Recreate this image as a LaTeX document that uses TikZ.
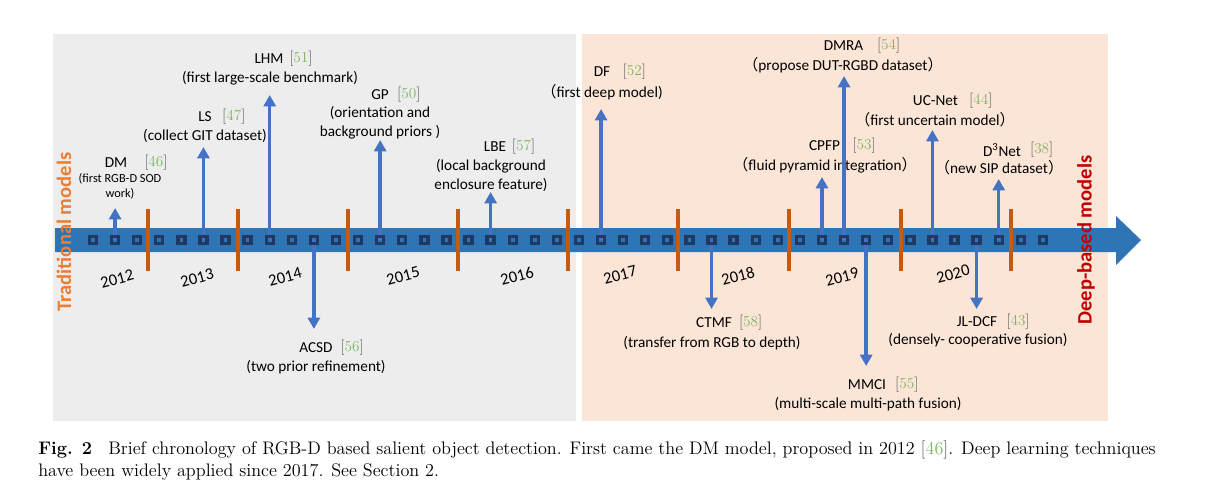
\documentclass[tikz,border=0pt]{standalone}
\usepackage{fontspec}
\usepackage{xcolor}
\usepackage{tikz}
\usetikzlibrary{arrows.meta, positioning}
\newfontfamily\calibri{Carlito}
\newfontfamily\cjk{Noto Sans CJK SC}
\definecolor{tradgray}{HTML}{EDEDED}
\definecolor{deeppeach}{HTML}{FBE5D6}
\definecolor{bandblue}{HTML}{2E75B6}
\definecolor{boxnavy}{HTML}{203864}
\definecolor{stemblue}{HTML}{4472C4}
\definecolor{tickorange}{HTML}{C55A11}
\definecolor{tradorange}{HTML}{ED7D31}
\definecolor{deepred}{HTML}{C00000}
\definecolor{citegreen}{HTML}{7DB564}
\definecolor{citegray}{HTML}{555555}

\newcommand{\evfont}{\calibri\fontsize{11.5}{14.5}\selectfont}
\newcommand{\refnum}[1]{{\color{citegray}[}{\color{citegreen}#1}{\color{citegray}]}}
\newcommand{\wlp}{{\cjk （}}
\newcommand{\wrp}{{\cjk ）}}

\tikzset{
  evname/.style={font=\evfont, inner sep=0pt},
  evdesc/.style={font=\evfont, inner sep=0pt, align=center},
  evcite/.style={font=\rmfamily\fontsize{11.5}{14}\selectfont, inner sep=0pt},
  stem/.style={draw=stemblue, line width=2.6pt, -{Triangle[width=9pt,length=8.5pt]}},
  yearbox/.style={draw=boxnavy, line width=2.5pt, minimum size=5.3pt, inner sep=0pt},
  yeartick/.style={draw=tickorange, line width=2.4pt},
  yearlbl/.style={font=\calibri\fontsize{12.5}{14}\selectfont, rotate=15, inner sep=0pt},
  sidelbl/.style={font=\calibri\bfseries\fontsize{15.5}{18}\selectfont, rotate=90, inner sep=0pt}
}

\begin{document}
\begin{tikzpicture}[x=0.0265cm, y=-0.0265cm]
    \useasboundingbox (0,0) rectangle (1209,491);

    % Era backgrounds
    \fill[tradgray] (53,34) rectangle (576,421);
    \fill[deeppeach] (582,34) rectangle (1108,421);

    % Time band
    \fill[bandblue] (55,228) -- (1116,228) -- (1116,216) -- (1141,240) -- (1116,265) -- (1116,252) -- (55,252) -- cycle;
    \foreach \i in {0,...,43}
        \coordinate (c\i) at ({93+22.09*\i},240);

    % Events above the band
    \node[evname, label={[evcite, xshift=12.5pt]right:\refnum{46}}] (dm) at (116,163) {DM};
    \node[evdesc, font=\calibri\fontsize{9.3}{11.3}\selectfont] (dm-d) at (120,186.5) {(first RGB-D SOD\\work)};
    \coordinate (dm-tip) at (117,208);

    \node[evname, label={[evcite, xshift=7.5pt]right:\refnum{47}}] (ls) at (205,117) {LS};
    \node[evdesc] (ls-d) at (205,136) {(collect GIT dataset)};
    \coordinate (ls-tip) at (203,147);

    \node[evname, label={[evcite, xshift=4pt]right:\refnum{51}}] (lhm) at (269,59) {LHM};
    \node[evdesc] (lhm-d) at (270,78) {(first large-scale benchmark)};
    \coordinate (lhm-tip) at (270,95);

    \node[evname, label={[evcite, xshift=6pt]right:\refnum{50}}] (gp) at (380,95) {GP};
    \node[evdesc] (gp-d) at (380,123) {(orientation and\\background priors )};
    \coordinate (gp-tip) at (380,140);

    \node[evname, label={[evcite, xshift=4pt]right:\refnum{57}}] (lbe) at (495,147) {LBE};
    \node[evdesc] (lbe-d) at (491,175.5) {(local background\\enclosure feature)};
    \coordinate (lbe-tip) at (491,192);

    \node[evname, label={[evcite, xshift=9pt]right:\refnum{52}}] (df) at (602,72) {DF};
    \node[evdesc] (df-d) at (602,92) {\wlp first deep model)};
    \coordinate (df-tip) at (601,109);

    \node[evname, label={[evcite, xshift=9pt]right:\refnum{53}}] (cpfp) at (824.5,146) {CPFP};
    \node[evdesc] (cpfp-d) at (825,165) {\wlp fluid pyramid integration\wrp};
    \coordinate (cpfp-tip) at (822,177);

    \node[evname, label={[evcite, xshift=10pt]right:\refnum{54}}] (dmra) at (843.5,46) {DMRA};
    \node[evdesc] (dmra-d) at (843,65) {\wlp propose DUT-RGBD dataset\wrp};
    \coordinate (dmra-tip) at (844,76);

    \node[evname, label={[evcite, xshift=8pt]right:\refnum{44}}] (ucnet) at (935.5,101) {UC-Net};
    \node[evdesc] (ucnet-d) at (935,120) {\wlp first uncertain model\wrp};
    \coordinate (ucnet-tip) at (932,130);

    \node[evname, label={[evcite, xshift=6.5pt]right:\refnum{38}}] (d3net) at (1002,150) {D\textsuperscript{3}Net};
    \node[evdesc] (d3net-d) at (999,168) {\wlp new SIP dataset\wrp};
    \coordinate (d3net-tip) at (999,179);

    % Events below the band
    \node[evname, label={[evcite, xshift=5.5pt]right:\refnum{56}}] (acsd) at (316,348) {ACSD};
    \node[evdesc] (acsd-d) at (316,367) {(two prior refinement)};
    \coordinate (acsd-tip) at (314,329);

    \node[evname, label={[evcite, xshift=5pt]right:\refnum{58}}] (ctmf) at (714,323) {CTMF};
    \node[evdesc] (ctmf-d) at (712,343) {(transfer from RGB to depth)};
    \coordinate (ctmf-tip) at (712,309);

    \node[evname, label={[evcite, xshift=6.5pt]right:\refnum{55}}] (mmci) at (867,385) {MMCI};
    \node[evdesc] (mmci-d) at (868,404) {(multi-scale multi-path fusion)};
    \coordinate (mmci-tip) at (866,366);

    \node[evname, label={[evcite, xshift=6.5pt]right:\refnum{43}}] (jldcf) at (977,322) {JL-DCF};
    \node[evdesc] (jldcf-d) at (978,340) {(densely- cooperative fusion)};
    \coordinate (jldcf-tip) at (977,309);

    % Stems
    \draw[stem] (c1) -- (c1 |- dm-tip);
    \draw[stem] (c5) -- (c5 |- ls-tip);
    \draw[stem] (c8) -- (c8 |- lhm-tip);
    \draw[stem] (c13) -- (c13 |- gp-tip);
    \draw[stem] (c18) -- (c18 |- lbe-tip);
    \draw[stem] (c23) -- (c23 |- df-tip);
    \draw[stem] (c33) -- (c33 |- cpfp-tip);
    \draw[stem] (c34) -- (c34 |- dmra-tip);
    \draw[stem] (c38) -- (c38 |- ucnet-tip);
    \draw[stem] (c41) -- (c41 |- d3net-tip);
    \draw[stem] (c10) -- (c10 |- acsd-tip);
    \draw[stem] (c28) -- (c28 |- ctmf-tip);
    \draw[stem] (c35) -- (c35 |- mmci-tip);
    \draw[stem] (c40) -- (c40 |- jldcf-tip);

    % Boxes on the band
    \foreach \i in {0,...,43}
        \node[yearbox] (s\i) at (c\i) {};

    % Year separators and years
    \foreach \x in {148,238,348,458,568,678,789,901,1011}
        \draw[yeartick] (\x,209) -- (\x,271);
    \foreach \yr/\x/\y in {2012/117/279, 2013/197/278, 2014/285/277, 2015/403/276, 2016/517/276,
                           2017/620/275, 2018/738/276, 2019/842/277, 2020/953/274}
        \node[yearlbl] (y\yr) at (\x,\y) {\yr};

    % Era labels
    \node[sidelbl, text=tradorange] (trad) at (64,232) {Traditional models};
    \node[sidelbl, text=deepred] (deep) at (1086,240) {Deep-based models};

    % Caption
    \node[anchor=base west, inner sep=0pt, align=left, font=\rmfamily\fontsize{13.7}{16.5}\selectfont] (caption) at (38,476)
        {\textbf{Fig. 2}\hspace{0.9em}Brief chronology of RGB-D based salient object detection. First came the DM model, proposed in 2012 \refnum{46}. Deep learning techniques\\have been widely applied since 2017. See Section 2.};
\end{tikzpicture}
\end{document}
